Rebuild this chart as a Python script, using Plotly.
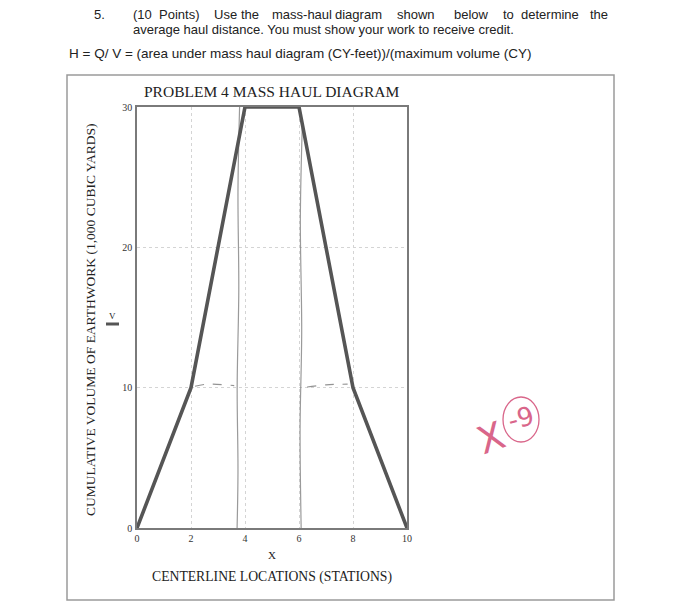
import plotly.graph_objects as go

# ---- data ----
stations = [0, 2, 4, 6, 8, 10]
cum_volume = [0, 10, 30, 30, 10, 0]

x_ticks = [0, 2, 4, 6, 8, 10]
y_ticks = [0, 10, 20, 30]

# hand-drawn pencil marks
pencil_left_x = [3.80, 3.74, 3.77, 3.71, 3.74, 3.70]
pencil_left_y = [30, 24, 17, 10, 4, -0.6]
pencil_right_x = [6.12, 6.05, 6.10, 6.04, 6.08]
pencil_right_y = [28.5, 22, 14, 7, 0]
dash_left_x = [2.15, 2.6, 3.6]
dash_left_y = [10.1, 10.25, 10.15]
dash_right_x = [6.3, 7.0, 7.8]
dash_right_y = [10.05, 10.2, 10.25]

OFF = 8  # page body margin of the browser
W, H = 700 - OFF, 612 - OFF
L, R, T, B = 137 - OFF, 407 - OFF, 107 - OFF, 528 - OFF


def px(x):
    return (x - OFF - L) / (R - L)


def py(y):
    return (B - (y - OFF)) / (B - T)


SERIF = "Liberation Serif"
SANS = "Liberation Sans"

fig = go.Figure()

pencil = dict(color="rgba(120,120,120,0.75)", width=1.2)
fig.add_trace(go.Scatter(x=pencil_left_x, y=pencil_left_y, mode="lines",
                         line=dict(**pencil, shape="spline"), hoverinfo="skip"))
fig.add_trace(go.Scatter(x=pencil_right_x, y=pencil_right_y, mode="lines",
                         line=dict(**pencil, shape="spline"), hoverinfo="skip"))
fig.add_trace(go.Scatter(x=dash_left_x, y=dash_left_y, mode="lines",
                         line=dict(color="rgba(120,120,120,0.8)", width=1.2, dash="dash", shape="spline"),
                         hoverinfo="skip"))
fig.add_trace(go.Scatter(x=dash_right_x, y=dash_right_y, mode="lines",
                         line=dict(color="rgba(120,120,120,0.8)", width=1.2, dash="dash", shape="spline"),
                         hoverinfo="skip"))

fig.add_trace(go.Scatter(x=stations, y=cum_volume, mode="lines",
                         line=dict(color="#555555", width=3.6), hoverinfo="skip"))

fig.update_layout(
    width=W, height=H,
    margin=dict(l=L, r=W - R, t=T, b=H - B),
    paper_bgcolor="white", plot_bgcolor="white",
    showlegend=False,
    xaxis=dict(range=[0, 10], tickvals=x_ticks, ticktext=[str(v) for v in x_ticks],
               showgrid=True, gridcolor="#d4d4d4", griddash="dot", gridwidth=1,
               zeroline=False, showline=True, linecolor="#7a7a7a", linewidth=1.6,
               mirror=True, ticks="", tickfont=dict(family=SERIF, size=10, color="#333"),
               fixedrange=True),
    yaxis=dict(range=[0, 30], tickvals=y_ticks, ticktext=[str(v) for v in y_ticks],
               showgrid=True, gridcolor="#d4d4d4", griddash="dot", gridwidth=1,
               zeroline=False, showline=True, linecolor="#7a7a7a", linewidth=1.6,
               mirror=True, ticks="", ticklabelstandoff=1,
               tickfont=dict(family=SERIF, size=10, color="#333"),
               fixedrange=True),
)

shapes = []
# outer frame of the figure
shapes.append(dict(type="rect", xref="paper", yref="paper",
                   x0=px(67), x1=px(614), y0=py(600), y1=py(75),
                   line=dict(color="#9a9a9a", width=1.5), fillcolor="rgba(0,0,0,0)", layer="below"))
# dark page edge on the right
shapes.append(dict(type="rect", xref="paper", yref="paper",
                   x0=px(696), x1=px(703), y0=py(614), y1=py(7),
                   line=dict(width=0), fillcolor="black", layer="above"))
# legend line under V
shapes.append(dict(type="line", xref="paper", yref="paper",
                   x0=px(106), x1=px(119), y0=py(324), y1=py(324),
                   line=dict(color="#555555", width=3)))
# red circle
shapes.append(dict(type="circle", xref="paper", yref="paper",
                   x0=px(503), x1=px(539), y0=py(442), y1=py(397),
                   line=dict(color="#d9668a", width=1.3)))
fig.update_layout(shapes=shapes)

ann = []


def text(x, y, s, size, family=SANS, color="#222", xanchor="left", angle=0):
    ann.append(dict(x=px(x), y=py(y), xref="paper", yref="paper", text=s,
                    showarrow=False, xanchor=xanchor, yanchor="middle",
                    textangle=angle, font=dict(family=family, size=size, color=color)))


text(92, 15, "5.", 13)
words1 = [("(10", 131), ("Points)", 157), ("Use", 212), ("the", 239), ("mass-haul", 270),
          ("diagram", 333), ("shown", 395), ("below", 452), ("to", 501), ("determine", 519),
          ("the", 588)]
for w, x in words1:
    text(x, 15, w, 13)
text(131, 29, "average haul distance. You must show your work to receive credit.", 13)
text(67, 53, "H = Q/ V = (area under mass haul diagram (CY-feet))/(maximum volume (CY)", 13.5)

text(271, 91, "PROBLEM 4 MASS HAUL DIAGRAM", 15.5, family=SERIF, xanchor="center")
text(90, 320, "CUMULATIVE VOLUME OF EARTHWORK (1,000 CUBIC YARDS)", 13.5, family=SERIF,
     xanchor="center", angle=-90)
text(112, 316, "V", 9, family=SERIF, xanchor="center")
text(272, 555, "X", 11, family=SERIF, xanchor="center")
text(272, 577, "CENTERLINE LOCATIONS (STATIONS)", 13.7, family=SERIF, xanchor="center")

# red handwritten grade
text(521, 418, "-9", 26, family="DejaVu Sans", color="#d9668a", xanchor="center", angle=-15)
text(491, 438, "X", 38, family="DejaVu Sans", color="#d9668a", xanchor="center", angle=-20)

fig.update_layout(annotations=ann)

fig.write_html("out.html")
